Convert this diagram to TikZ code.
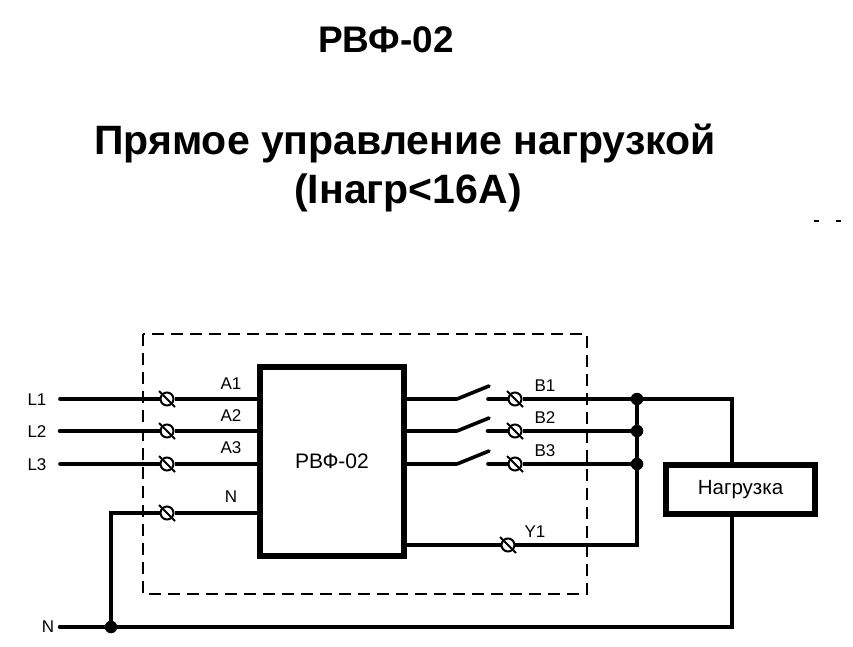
\documentclass[tikz,border=0pt]{standalone}
\usepackage{fontspec}
\setmainfont{Liberation Sans}
\usetikzlibrary{positioning}

\tikzset{
    wire/.style={line width=3.6pt,line cap=round},
    thickwire/.style={line width=4.6pt,line cap=round},
    framebox/.style={line width=2.6pt,dash pattern=on 12pt off 7pt},
    unitbox/.style={draw,line width=6.5pt,inner sep=0pt},
    terminal/.style={draw,circle,fill=white,line width=2pt,minimum size=13pt,inner sep=0pt},
    slash/.style={line width=1.8pt},
    junct/.style={circle,fill=black,minimum size=12.5pt,inner sep=0pt},
    lbl/.style={font=\fontsize{17}{19}\selectfont,inner sep=0pt},
    headline/.style={font=\fontsize{41}{46}\selectfont\bfseries,inner sep=0pt}
}

\begin{document}
\begin{tikzpicture}[x=1pt,y=-1pt]
        \useasboundingbox (0,0) rectangle (853,646);

        % Заголовок
        \node[headline,font=\fontsize{37}{42}\selectfont\bfseries] (title) at (386,40) {РВФ-02};
        \node[headline] (sub1) at (405,143) {Прямое управление нагрузкой};
        \node[headline] (sub2) at (408,193) {(Iнагр<16А)};

        % Пунктирная рамка
        \draw[framebox] (143,334) rectangle (587,594);
        \draw[line width=1.2pt] (814,221) -- (819,221);
        \draw[line width=1.2pt] (836,221) -- (841,221);

        % Блок и нагрузка
        \node[unitbox,minimum width=144pt,minimum height=189pt,font=\fontsize{21}{23}\selectfont] (rvf) at (332,461.5) {РВФ-02};
        \node[unitbox,minimum width=149pt,minimum height=49pt,font=\fontsize{20.5}{23}\selectfont] (load) at (740.5,489.5) {\raisebox{-1.5pt}{Нагрузка}};

        % Входы L1, L2, L3 и выходы B1, B2, B3
        \foreach \y/\w [count=\i] in {399/wire,431/thickwire,464/wire} {
            \node[terminal] (termA\i) at (167,\y) {};
            \node[terminal] (termB\i) at (515,\y) {};
            \node[junct] (junct\i) at (637,\y) {};
            \node[lbl] (labL\i) at (37,\y+1) {L\i};
            \coordinate (inL\i) at (60,\y);
            \coordinate (swA\i) at (457,\y);
            \coordinate (swB\i) at (489,\y-13);
            \coordinate (swC\i) at (488,\y);
            \draw[\w] (inL\i) -- (termA\i);
            \draw[\w,line cap=butt] (termA\i) -- (rvf.west |- termA\i);
            \draw[\w,line cap=butt] (rvf.east |- termA\i) -- (swA\i);
            \draw[wire] (swA\i) -- (swB\i);
            \draw[\w] (swC\i) -- (termB\i);
            \draw[\w,line cap=butt] (termB\i) -- (junct\i);
        }
        \foreach \x/\y/\t in {231/384/A1,231/416/A2,231/448/A3,231/497/N,545/386/B1,545/418/B2,545/451/B3,535/532/Y1} {
            \node[lbl] (lab\t) at (\x,\y) {\t};
        }

        % Нейтраль
        \node[terminal] (termN) at (167,513) {};
        \node[junct] (junctN) at (111,627) {};
        \node[lbl] (labN) at (48,627) {N};
        \coordinate (inN) at (60,627);
        \coordinate (cornerN) at (111,513);
        \draw[wire,line cap=butt] (junctN) -- (cornerN) -- (termN);
        \draw[wire,line cap=butt] (termN) -- (rvf.west |- termN);
        \draw[thickwire] (inN) -- (junctN);

        % Реле Y1
        \node[terminal] (termY) at (508,545) {};
        \coordinate (cornerY) at (637,545);
        \draw[wire,line cap=butt] (rvf.east |- termY) -- (termY);
        \draw[wire] (termY) -- (cornerY) -- (junct3);
        \draw[wire] (junct3) -- (junct2);
        \draw[wire] (junct2) -- (junct1);

        % Питание нагрузки
        \coordinate (loadtop) at (732,399);
        \coordinate (loadbot) at (732,627);
        \draw[line width=4pt] (junct1) -- (loadtop) -- (loadtop |- load.north);
        \draw[line width=4.6pt] (load.south -| loadbot) -- (loadbot) -- (junctN);

        % Косые черты клемм
        \foreach \t in {termA1,termA2,termA3,termN,termB1,termB2,termB3,termY} {
            \draw[slash] (\t.center) ++(-8,-8) -- ++(16,16);
        }
\end{tikzpicture}
\end{document}
